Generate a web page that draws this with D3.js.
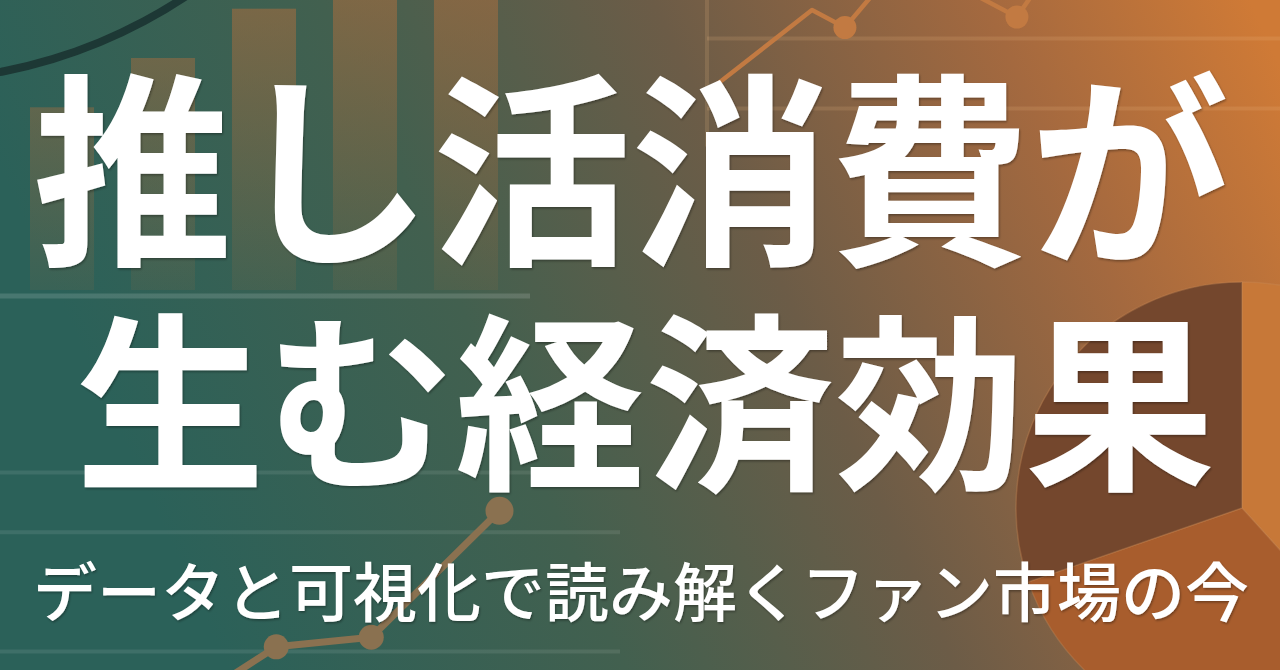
<!DOCTYPE html>
<html>
<head>
<meta charset="utf-8">
<script src="https://cdn.jsdelivr.net/npm/d3@7"></script>
<style>
  body { margin: 0; background: #2b6159; overflow: hidden; }
  svg { display: block; }
</style>
</head>
<body>
<div id="container"></div>
<script>
/* CONSTANTS AND GLOBALS */
const width = 1280,
  height = 670

// bar chart, top left
const barCategories = ["2019", "2020", "2021", "2022", "2023"]
const barValues = [63, 80, 97, 112, 118]

// line chart, top right (runs off the top edge)
const topLineSteps = [0, 1, 1.35, 1.98, 3.18, 3.64]
const topLineValues = [27, 48, 43, 63, 46, 64]
const topLineMarked = [2, 4]
const topGridTicks = [20, 40]

// line chart, bottom left
const lowLineSteps = [0, 0.75, 1.75, 3.1]
const lowLineValues = [-0.7, 0.07, 0.23, 2.35]
const lowLineMarked = [1, 2, 3]
const lowGridTicks = [0, 2, 3]

// pie, bottom right
const pieLabels = ["A", "B", "C"]
const pieValues = [38.3, 31.4, 30.3]
const pieColors = ["#c77838", "#a85d2d", "#74472d"]

// texts
const titleLines = ["推し活消費が", "生む経済効果"]
const subtitle = "データと可視化で読み解くファン市場の今"

/* CREATE SVG ELEMENT */
const svg = d3.select("#container")
  .append("svg")
  .attr("width", width)
  .attr("height", height)

const defs = svg.append("defs")

// background: teal bottom left -> orange top right
const bg = defs.append("linearGradient")
  .attr("id", "bg")
  .attr("gradientUnits", "userSpaceOnUse")
  .attr("x1", 150).attr("y1", 500)
  .attr("x2", 1250).attr("y2", 0)
bg.selectAll("stop")
  .data([
    [0, "#2b6159"], [0.3, "#42604f"], [0.55, "#6c5c47"],
    [0.8, "#a4693f"], [1, "#cf7a36"]
  ])
  .join("stop")
  .attr("offset", d => d[0])
  .attr("stop-color", d => d[1])

// bars fade out toward the baseline
const barGrad = defs.append("linearGradient")
  .attr("id", "barGrad")
  .attr("gradientUnits", "userSpaceOnUse")
  .attr("x1", 0).attr("y1", 0)
  .attr("x2", 0).attr("y2", 290)
barGrad.append("stop").attr("offset", 0).attr("stop-color", "#a06c40").attr("stop-opacity", 0.62)
barGrad.append("stop").attr("offset", 1).attr("stop-color", "#a06c40").attr("stop-opacity", 0.12)

defs.append("filter")
  .attr("id", "shadow")
  .attr("x", "-5%").attr("y", "-5%")
  .attr("width", "110%").attr("height", "110%")
  .append("feDropShadow")
  .attr("dx", 1).attr("dy", 1.5)
  .attr("stdDeviation", 1.2)
  .attr("flood-color", "#000")
  .attr("flood-opacity", 0.35)

svg.append("rect")
  .attr("width", width)
  .attr("height", height)
  .attr("fill", "url(#bg)")

/* PIE */
const pie = d3.pie().sort(null).value(d => d)
const arcGen = d3.arc().innerRadius(0).outerRadius(226)

svg.append("g")
  .attr("transform", `translate(${1242}, ${508})`)
  .selectAll("path")
  .data(pie(pieValues))
  .join("path")
  .attr("class", (d, i) => "slice-" + pieLabels[i])
  .attr("d", arcGen)
  .attr("fill", (d, i) => pieColors[i])
  .attr("stroke", "#c98a55")
  .attr("stroke-opacity", 0.35)
  .attr("stroke-width", 1.5)

/* RING, top left corner */
const ringArc = d3.arc().innerRadius(504).outerRadius(512).startAngle(0).endAngle(2 * Math.PI)
svg.append("path")
  .attr("transform", `translate(${-95}, ${-427})`)
  .attr("d", ringArc())
  .attr("fill", "#1d3835")

/* BARS */
const xBand = d3.scaleBand()
  .domain(barCategories)
  .range([30, 498])
  .paddingInner(0.366)

const yBar = d3.scaleLinear()
  .domain([0, 100])
  .range([290, 0])

svg.append("g")
  .selectAll("rect")
  .data(barValues)
  .join("rect")
  .attr("x", (d, i) => xBand(barCategories[i]))
  .attr("y", d => yBar(d))
  .attr("width", xBand.bandwidth())
  .attr("height", d => yBar(0) - yBar(d))
  .attr("fill", "url(#barGrad)")

// baseline under bars
svg.append("line")
  .attr("x1", 0)
  .attr("x2", 530)
  .attr("y1", yBar(0) + 6)
  .attr("y2", yBar(0) + 6)
  .attr("stroke", "#ffffff")
  .attr("stroke-opacity", 0.14)
  .attr("stroke-width", 5)

/* TOP RIGHT LINE CHART */
const xTop = d3.scaleLinear().domain([0, 4]).range([718, 1094])
const yTop = d3.scaleLinear().domain([20, 40]).range([108, 38])

const topGrid = svg.append("g")
  .attr("transform", `translate(${707}, 0)`)
  .call(d3.axisLeft(yTop)
    .tickValues(topGridTicks)
    .tickSize(-(width - 707))
    .tickFormat(""))
topGrid.select(".domain").remove()
topGrid.selectAll(".tick line")
  .attr("stroke", "#f3c08a")
  .attr("stroke-opacity", 0.16)
  .attr("stroke-width", 4)

svg.append("line")
  .attr("x1", 707).attr("x2", 707)
  .attr("y1", 0).attr("y2", yTop(9))
  .attr("stroke", "#f3c08a")
  .attr("stroke-opacity", 0.16)
  .attr("stroke-width", 4)

const topLine = d3.line()
  .x((d, i) => xTop(topLineSteps[i]))
  .y(d => yTop(d))

svg.append("path")
  .datum(topLineValues)
  .attr("d", topLine)
  .attr("fill", "none")
  .attr("stroke", "#c27a42")
  .attr("stroke-width", 4.5)
  .attr("stroke-linejoin", "round")

svg.append("g")
  .selectAll("circle")
  .data(topLineMarked)
  .join("circle")
  .attr("cx", i => xTop(topLineSteps[i]))
  .attr("cy", i => yTop(topLineValues[i]))
  .attr("r", 11.5)
  .attr("fill", "#c27a42")

/* BOTTOM LEFT LINE CHART */
const xLow = d3.scaleLinear().domain([0, 4]).range([205, 585])
const yLow = d3.scaleLinear().domain([0, 3]).range([651, 472])

const lowGrid = svg.append("g")
  .call(d3.axisLeft(yLow)
    .tickValues(lowGridTicks)
    .tickSize(-620)
    .tickFormat(""))
lowGrid.select(".domain").remove()
lowGrid.selectAll(".tick line")
  .attr("stroke", "#ffffff")
  .attr("stroke-opacity", 0.09)
  .attr("stroke-width", 4)

const lowLine = d3.line()
  .x((d, i) => xLow(lowLineSteps[i]))
  .y(d => yLow(d))

svg.append("path")
  .datum(lowLineValues)
  .attr("d", lowLine)
  .attr("fill", "none")
  .attr("stroke", "#8a7150")
  .attr("stroke-width", 7)
  .attr("stroke-linejoin", "round")

svg.append("g")
  .selectAll("circle")
  .data(lowLineMarked)
  .join("circle")
  .attr("cx", i => xLow(lowLineSteps[i]))
  .attr("cy", i => yLow(lowLineValues[i]))
  .attr("r", (i, j) => j === lowLineMarked.length - 1 ? 14 : 12.5)
  .attr("fill", "#8a7150")

/* TEXT */
const textLayer = svg.append("g")
  .attr("filter", "url(#shadow)")
  .attr("fill", "#ffffff")
  .style("font-family", "'Noto Sans CJK JP', 'Noto Sans CJK SC', sans-serif")

// first line is set a little narrower than it is tall
textLayer.append("text")
  .attr("transform", `translate(${33}, ${249}) scale(0.968, 1)`)
  .style("font-size", "206px")
  .style("font-weight", 700)
  .text(titleLines[0])

textLayer.append("text")
  .attr("x", 75)
  .attr("y", 475)
  .style("font-size", "190px")
  .style("font-weight", 700)
  .text(titleLines[1])

textLayer.append("text")
  .attr("x", 33)
  .attr("y", 616)
  .style("font-size", "64px")
  .style("font-weight", 500)
  .text(subtitle)
</script>
</body>
</html>
